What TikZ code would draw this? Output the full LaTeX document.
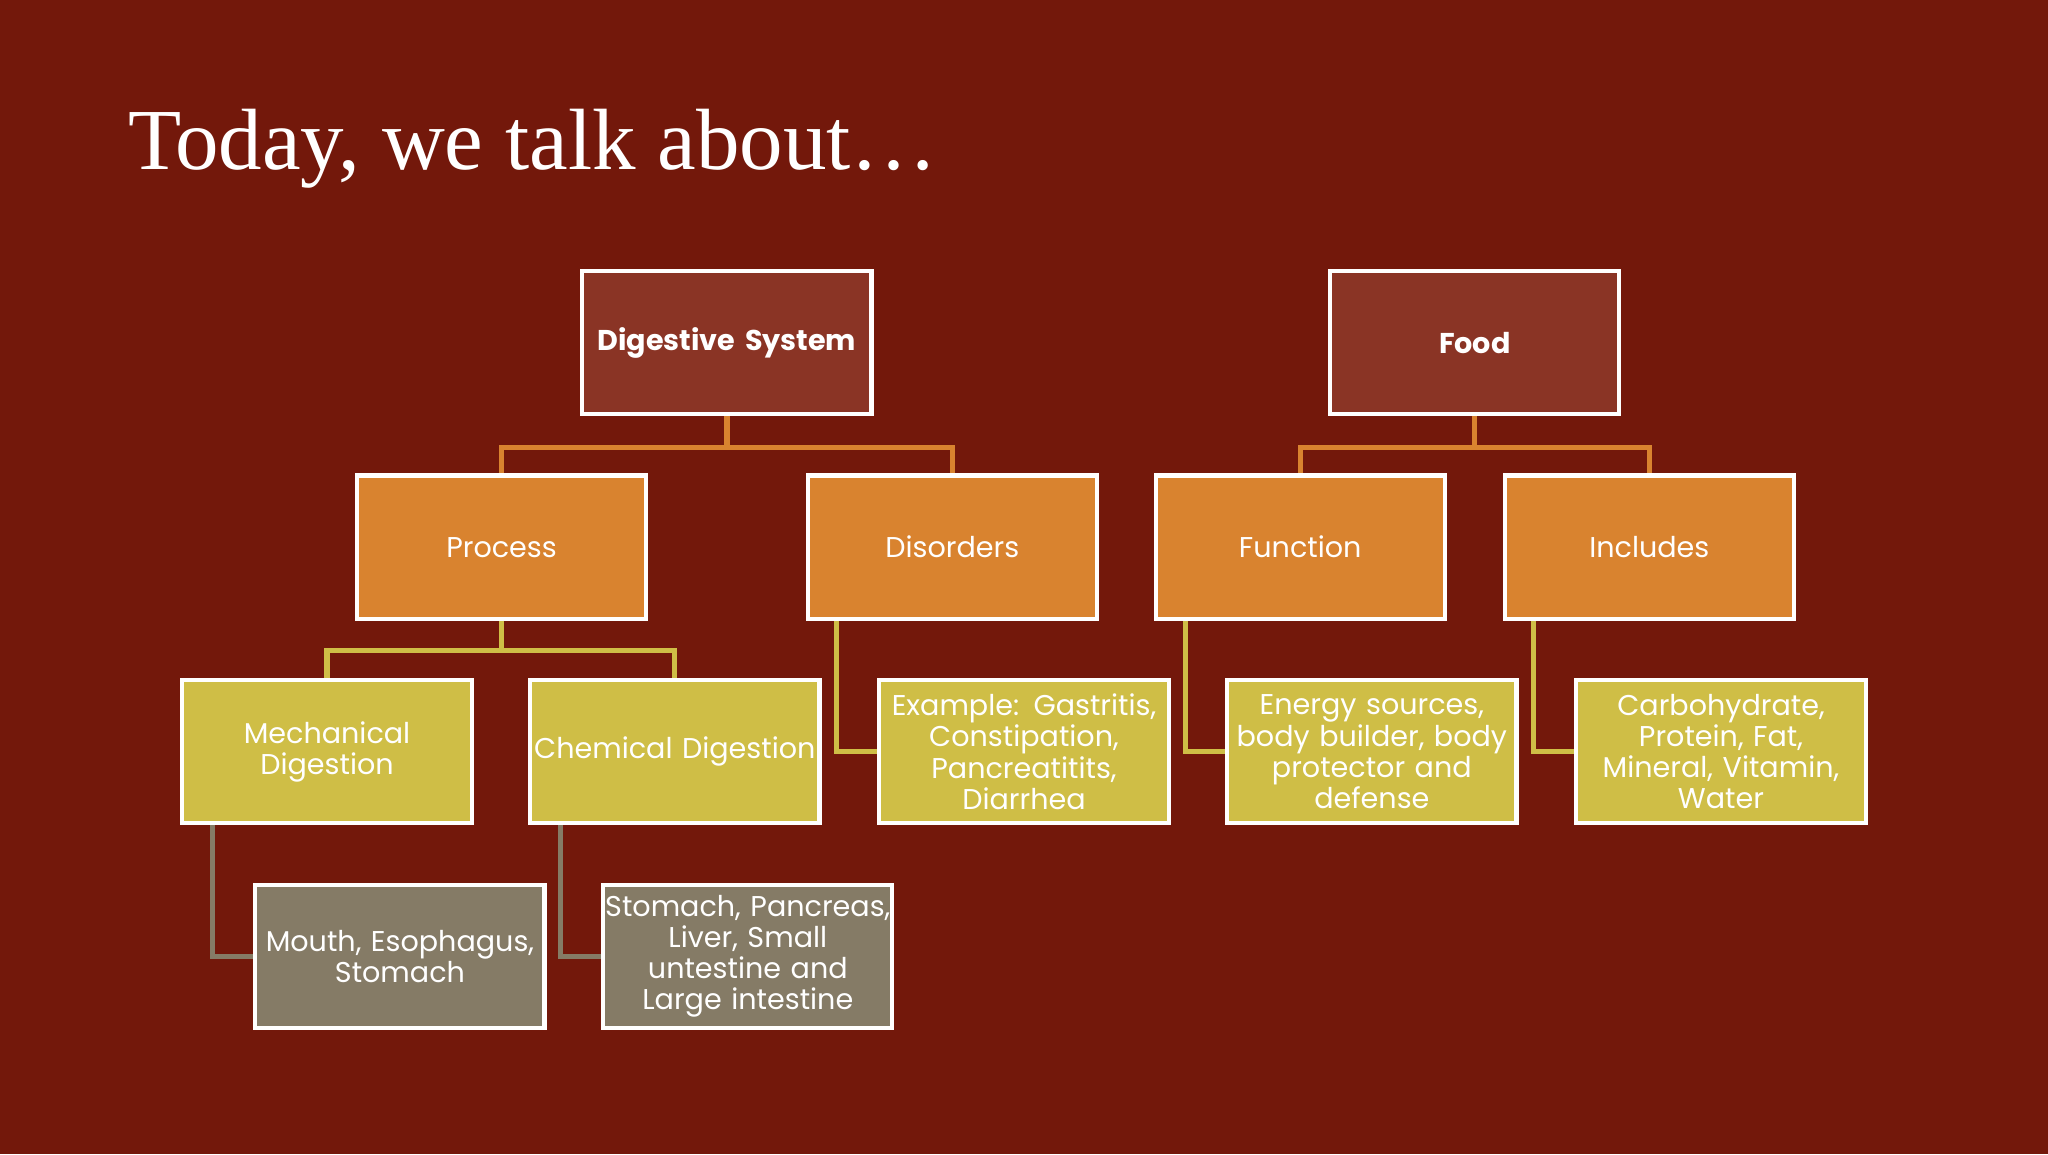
\documentclass[tikz,border=0pt]{standalone}
\usepackage{fontspec}
\setmainfont{Poppins}
\newfontfamily\titlefont{Liberation Serif}
\begin{document}
\definecolor{bgc}{HTML}{73180B}
\definecolor{topc}{HTML}{8A3425}
\definecolor{orc}{HTML}{D9832F}
\definecolor{yec}{HTML}{CFBE46}
\definecolor{grc}{HTML}{857B66}
\begin{tikzpicture}[x=0.02cm,y=-0.02cm,
  box/.style={draw=white,line width=1.8pt,minimum width=4.44cm,minimum height=2.2cm,text width=4.42cm,align=center,inner sep=0pt,text=white,font=\fontsize{12.5}{13.6}\selectfont},
  btop/.style={box,fill=topc,font=\fontsize{12.5}{13.6}\selectfont\bfseries},
  bor/.style={box,fill=orc},
  bye/.style={box,fill=yec},
  bgr/.style={box,fill=grc},
  con/.style={line width=2.3pt}]
\fill[bgc] (-2,-2) rectangle (1570,884);
\node[anchor=base west,text=white,font=\titlefont\fontsize{38}{40}\selectfont,inner sep=0pt] (title) at (96,128) {Today, we talk about\dots};
\node[btop] (ds) at (556,261) {Digestive System};
\node[btop] (food) at (1130,261) {Food};
\node[bor] (proc) at (383,418) {Process};
\node[bor] (dis) at (729,418) {Disorders};
\node[bor] (fun) at (996,418) {Function};
\node[bor] (inc) at (1264,418) {Includes};
\node[bye] (mech) at (249,575) {Mechanical\\Digestion};
\node[bye] (chem) at (516,575) {Chemical Digestion};
\node[bye] (ex) at (784,575) {Example: Gastritis,\\Constipation,\\Pancreatitits,\\Diarrhea};
\node[bye] (en) at (1051,575) {Energy sources,\\body builder, body\\protector and\\defense};
\node[bye] (carb) at (1319,575) {Carbohydrate,\\Protein, Fat,\\Mineral, Vitamin,\\Water};
\node[bgr] (mouth) at (305,732) {Mouth, Esophagus,\\Stomach};
\node[bgr] (stom) at (572,732) {Stomach, Pancreas,\\Liver, Small\\untestine and\\Large intestine};
\draw[con,orc] (ds.south) -- ++(0,24) -| (proc.north);
\draw[con,orc] (ds.south) -- ++(0,24) -| (dis.north);
\draw[con,orc] (food.south) -- ++(0,24) -| (fun.north);
\draw[con,orc] (food.south) -- ++(0,24) -| (inc.north);
\draw[con,yec] (proc.south) -- ++(0,23) -| (mech.north);
\draw[con,yec] (proc.south) -- ++(0,23) -| (chem.north);
\draw[con,yec] ([xshift=-89*0.02cm]dis.south) |- (ex.west);
\draw[con,yec] ([xshift=-88*0.02cm]fun.south) |- (en.west);
\draw[con,yec] ([xshift=-89*0.02cm]inc.south) |- (carb.west);
\draw[con,grc] ([xshift=-88*0.02cm]mech.south) |- (mouth.west);
\draw[con,grc] ([xshift=-88*0.02cm]chem.south) |- (stom.west);
\end{tikzpicture}
\end{document}
